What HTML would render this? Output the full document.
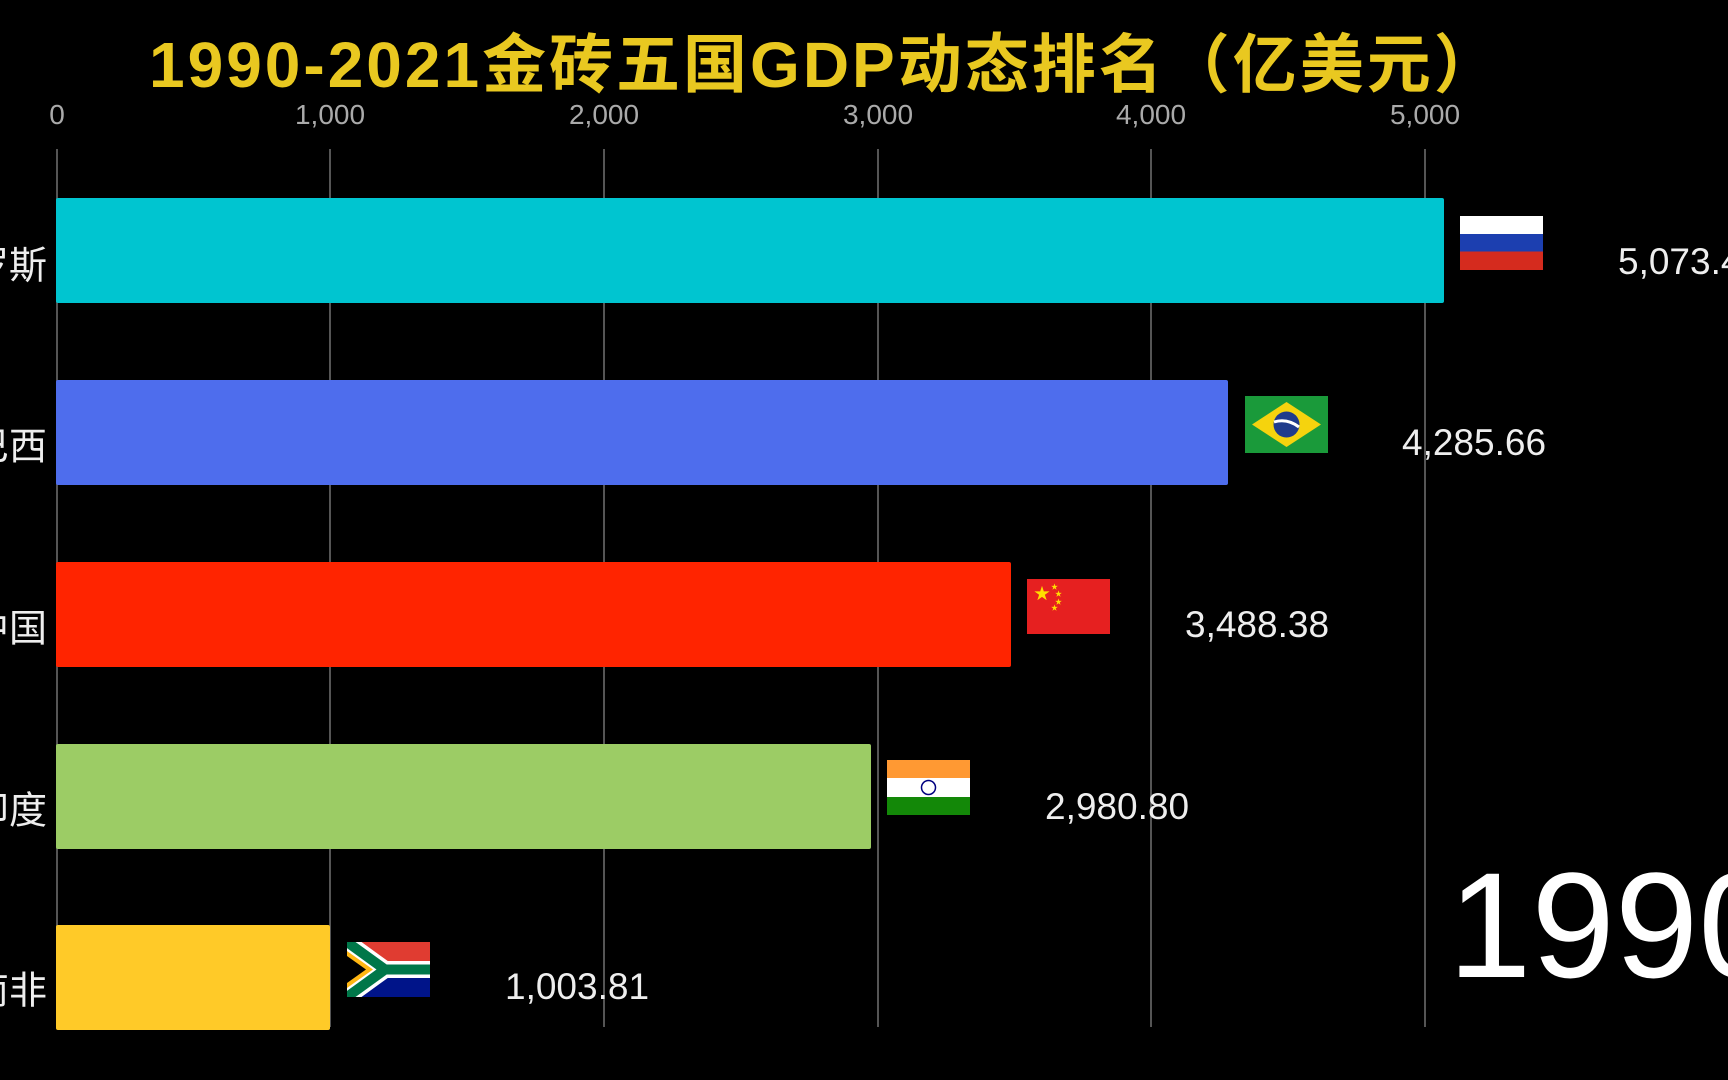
<!DOCTYPE html>
<html><head><meta charset="utf-8"><style>
body{margin:0;width:1728px;height:1080px;background:#000;overflow:hidden;position:relative;font-family:"Liberation Sans","Noto Sans CJK SC",sans-serif}
.a{position:absolute}
.g{position:absolute;top:149px;height:878px;width:2px;background:#555}
.t{position:absolute;top:99px;color:#aaa;font-size:28px;transform:translateX(-50%)}
.bar{position:absolute;left:56px;height:105px;border-radius:2px}
.v{position:absolute;color:#eee;font-size:37px;transform:translateY(-50%)}
.l{position:absolute;right:1681px;color:#eee;font-size:38px;transform:translateY(-50%);white-space:nowrap}
</style></head><body>
<div class="a" style="left:149px;top:14px;color:#e9c820;font-size:64px;font-weight:bold;white-space:nowrap;letter-spacing:3px">1990-2021金砖五国GDP动态排名（亿美元）</div>
<div class="g" style="left:56px"></div><div class="g" style="left:329px"></div><div class="g" style="left:603px"></div><div class="g" style="left:877px"></div><div class="g" style="left:1150px"></div><div class="g" style="left:1424px"></div>
<div class="t" style="left:57px">0</div><div class="t" style="left:330px">1,000</div><div class="t" style="left:604px">2,000</div><div class="t" style="left:878px">3,000</div><div class="t" style="left:1151px">4,000</div><div class="t" style="left:1425px">5,000</div>
<div class="bar" style="top:198px;width:1388px;background:#00c5d0"></div>
<div class="bar" style="top:380px;width:1172px;background:#4e6ded"></div>
<div class="bar" style="top:562px;width:955px;background:#ff2400"></div>
<div class="bar" style="top:744px;width:815px;background:#9ccc65"></div>
<div class="bar" style="top:925px;width:274px;background:#ffca28"></div>
<div class="l" style="top:262px">罗斯</div><div class="l" style="top:443px">巴西</div><div class="l" style="top:625px">中国</div><div class="l" style="top:807px">印度</div><div class="l" style="top:987px">南非</div>
<div class="a" style="left:1460px;top:216px;width:83px;height:54px;background:linear-gradient(#fff 0 33%,#1c3fb0 33% 66%,#d52b1e 66%)"></div>
<svg class="a" style="left:1245px;top:396px" width="83" height="57"><rect width="83" height="57" fill="#1a9a3a"/><polygon points="41.5,6 76,28.5 41.5,51 7,28.5" fill="#f5d30e"/><circle cx="41.5" cy="28.5" r="13" fill="#1f3b8c"/><path d="M29,26 Q42,22 54,31" stroke="#fff" stroke-width="3" fill="none"/></svg>
<svg class="a" style="left:1027px;top:579px" width="83" height="55"><rect width="83" height="55" fill="#e62020"/><text x="7" y="20" font-size="16" fill="#ffde00">★</text><text x="24" y="10" font-size="7" fill="#ffde00">★</text><text x="28" y="17" font-size="7" fill="#ffde00">★</text><text x="28" y="25" font-size="7" fill="#ffde00">★</text><text x="24" y="31" font-size="7" fill="#ffde00">★</text></svg>
<svg class="a" style="left:887px;top:760px" width="83" height="55"><rect width="83" height="18" fill="#ff9933"/><rect y="18" width="83" height="19" fill="#fff"/><rect y="37" width="83" height="18" fill="#138808"/><circle cx="41.5" cy="27.5" r="7" fill="none" stroke="#000080" stroke-width="1.5"/></svg>
<svg class="a" style="left:347px;top:942px" width="83" height="55"><rect width="83" height="27" fill="#e03c31"/><rect y="27" width="83" height="28" fill="#001489"/><path d="M0,0 L38,27.5 L0,55 M38,27.5 L83,27.5" stroke="#fff" stroke-width="17" fill="none"/><path d="M0,0 L38,27.5 L0,55 M38,27.5 L83,27.5" stroke="#007749" stroke-width="10" fill="none"/><polygon points="0,9 26,27.5 0,46" fill="#ffb612"/><polygon points="0,14 19,27.5 0,41" fill="#000"/></svg>
<div class="v" style="left:1618px;top:262px">5,073.45</div>
<div class="v" style="left:1402px;top:443px">4,285.66</div>
<div class="v" style="left:1185px;top:625px">3,488.38</div>
<div class="v" style="left:1045px;top:807px">2,980.80</div>
<div class="v" style="left:505px;top:987px">1,003.81</div>
<div class="a" style="left:1448px;top:850px;color:#fff;font-size:150px;line-height:150px">1990</div>
</body></html>
